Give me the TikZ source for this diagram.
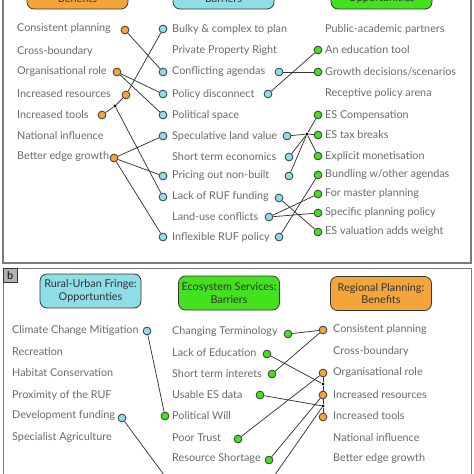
\documentclass[tikz,border=0pt]{standalone}
\usepackage{fontspec}
\setmainfont{Lato}
\usetikzlibrary{positioning}
\definecolor{RufCyan}{HTML}{8FDDE7}
\definecolor{EsGreen}{HTML}{44E11E}
\definecolor{RpOrange}{HTML}{F3A53A}
\definecolor{ItemGrey}{HTML}{6A6A6A}
\definecolor{LinkGrey}{HTML}{363636}
\definecolor{FrameGrey}{HTML}{7A7A7A}

\begin{document}
\begin{tikzpicture}[x=1pt,y=-1pt, every node/.style={font=\fontsize{10.8}{12.5}\selectfont}]
    \tikzset{head/.style={rounded corners=7pt,minimum width=101pt,minimum height=34pt,
      align=center,draw=LinkGrey,thick,text=black!80,inner sep=1pt},
      item/.style={anchor=west,inner sep=0pt,text=ItemGrey},
      dot/.style={circle,draw=LinkGrey,line width=0.8pt,minimum size=7.8pt,inner sep=0pt},
      hub/.style={circle,fill=black,minimum size=3.2pt,inner sep=0pt},
      link/.style={draw=LinkGrey,line width=0.75pt}}
    \useasboundingbox (0,0) rectangle (474,474);
    \clip (0,0) rectangle (474,474);
    % panel frames
    \draw[FrameGrey,line width=1.2pt] (3,-20) rectangle (471,263);
    \draw[FrameGrey,line width=1pt] (3,268) rectangle (471,500);
    \node[draw=LinkGrey,fill=black!30,minimum width=14pt,minimum height=14pt,inner sep=0pt,
      anchor=north west] (lbl) at (3,268) {b};
    % panel a
    \node[head,fill=RpOrange] (ha1) at (77.5,-8) {Regional Planning:\\Benefits};
    \node[head,fill=RufCyan] (ha2) at (223.5,-8) {Rural-Urban Fringe:\\Barriers};
    \node[head,fill=EsGreen] (ha3) at (381.5,-8) {Ecosystem Services:\\Opportunities};
    \foreach \y/\t [count=\i] in {29/{Consistent planning},51/{Cross-boundary},72/{Organisational role},
      94/{Increased resources},115/{Increased tools},136/{National influence},157/{Better edge growth}}
      {\node[item] (la\i) at (17,\y) {\t};}
    \foreach \y/\t [count=\i] in {29/{Bulky \& complex to plan},51/{Private Property Right},
      72/{Conflicting agendas},94/{Policy disconnect},115/{Political space},136/{Speculative land value},
      157/{Short term economics},176/{Pricing out non-built},197/{Lack of RUF funding},
      217/{Land-use conflicts},237/{Inflexible RUF policy}}
      {\node[item] (ma\i) at (172,\y) {\t};}
    \foreach \y/\t [count=\i] in {29/{Public-academic partners},50/{An education tool},
      72/{Growth decisions/scenarios},93/{Receptive policy arena},115/{ES Compensation},
      135/{ES tax breaks},156/{Explicit monetisation},175/{Bundling w/other agendas},
      194/{For master planning},213/{Specific planning policy},232/{ES valuation adds weight}}
      {\node[item] (ra\i) at (325,\y) {\t};}
    \foreach \n/\x/\y in {da1/125/30,da3/117/72,da4/126/95,da5/102/115,da7/114/158}
      {\node[dot,fill=RpOrange] (\n) at (\x,\y) {};}
    \foreach \n/\x/\y in {mla1/163/29,mla3/163/72,mla4/163/94,mla5/163/115,mla6/163/136,
      mla8/163/176,mla9/163/197,mla11/163/237,mra3/279/72,mra4/268/94,mra6/287/136,
      mra7/289/157,mra8/289/176,mra9/279/198,mra10/269/217,mra11/279/237}
      {\node[dot,fill=RufCyan] (\n) at (\x,\y) {};}
    \foreach \n/\y in {rda2/50,rda3/72,rda5/115,rda6/135,rda7/156,rda8/175,rda9/194,rda10/213,rda11/232}
      {\node[dot,fill=EsGreen] (\n) at (318,\y) {};}
    \node[hub] (ja1) at (115,106) {};
    \node[hub] (ja2) at (307,134) {};
    \foreach \a/\b in {da1/mla3,da3/mla4,da3/mla5,mla1/da4,da4/ja1,da5/ja1,ja1/mla9,da7/mla6,
      da7/mla8,da7/mla11,mra3/rda3,mra4/rda2,mra6/ja2,mra7/ja2,mra8/ja2,ja2/rda5,ja2/rda6,
      ja2/rda7,mra9/rda11,mra10/rda9,mra10/rda10,mra11/rda8}
      {\draw[link] (\a) -- (\b);}
    % panel b
    \node[head,fill=RufCyan] (hb1) at (90.5,291) {Rural-Urban Fringe:\\Opportunties};
    \node[head,fill=EsGreen] (hb2) at (229,293) {Ecosystem Services:\\Barriers};
    \node[head,fill=RpOrange] (hb3) at (381,293.5) {Regional Planning:\\Benefits};
    \foreach \y/\t [count=\i] in {331/{Climate Change Mitigation},352/{Recreation},
      373/{Habitat Conservation},395/{Proximity of the RUF},416/{Development funding},
      438/{Specialist Agriculture}}
      {\node[item] (lb\i) at (12,\y) {\t};}
    \foreach \y/\t [count=\i] in {332/{Changing Terminology},353/{Lack of Education},
      374/{Short term interets},395/{Usable ES data},416/{Political Will},438/{Poor Trust},
      459/{Resource Shortage},480/{Funding}}
      {\node[item] (mb\i) at (172,\y) {\t};}
    \foreach \y/\t [count=\i] in {330/{Consistent planning},351/{Cross-boundary},
      373/{Organisational role},395/{Increased resources},416/{Increased tools},
      438/{National influence},459/{Better edge growth}}
      {\node[item] (rb\i) at (333,\y) {\t};}
    \foreach \n/\x/\y in {dbl1/147/331,dbl5/122/418}
      {\node[dot,fill=RufCyan] (\n) at (\x,\y) {};}
    \foreach \n/\x/\y in {mlb5/165/416,mlb8/167/479,mrb1/288/334,mrb2/267/354,mrb3/272/374,
      mrb4/260/395,mrb6/238/439,mrb7/269/460,mrb8/272/479}
      {\node[dot,fill=EsGreen] (\n) at (\x,\y) {};}
    \foreach \n/\y in {rdb1/330,rdb3/373,rdb4/395,rdb5/417}
      {\node[dot,fill=RpOrange] (\n) at (323,\y) {};}
    \node[hub] (jb1) at (323,384) {};
    \node[hub] (jb2) at (323,406) {};
    \foreach \a/\b in {dbl1/mlb5,dbl5/mlb8,mrb1/rdb1,mrb3/rdb1,mrb2/jb1,mrb4/jb2,mrb6/rdb3,
      mrb7/rdb4,mrb8/jb2,rdb3/jb1,jb1/rdb4,rdb4/jb2,jb2/rdb5}
      {\draw[link] (\a) -- (\b);}
\end{tikzpicture}
\end{document}
